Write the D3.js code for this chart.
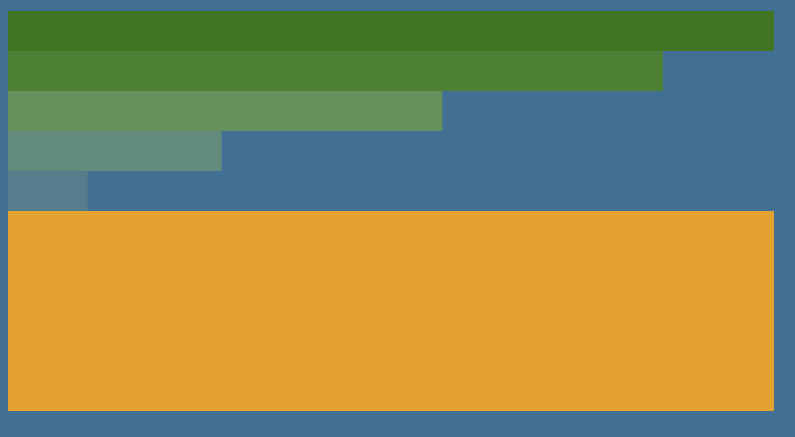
<!DOCTYPE html>
<html>
<head>
<meta charset="utf-8">
<script src="https://cdn.jsdelivr.net/npm/d3@7"></script>
<style>
  html, body { margin: 0; padding: 0; background: #427094; }
  svg { display: block; }
</style>
</head>
<body>
<div id="chart"></div>
<script>
// Stage values (share of the total, in %)
const stages = ["s1", "s2", "s3", "s4", "s5"];
const values = [100, 85.5, 56.7, 27.9, 10.4];
const colors = ["#427522", "#4e8136", "#66915d", "#638b7c", "#567d8c"];
const total = 100;

const width = 795, height = 437;
const margin = {top: 11, left: 8, right: 21, bottom: 26};

const svg = d3.select("#chart")
    .append("svg")
    .attr("width", width)
    .attr("height", height);

svg.append("rect")
    .attr("width", width)
    .attr("height", height)
    .attr("fill", "#427094");

const x = d3.scaleLinear()
    .domain([0, total])
    .range([margin.left, width - margin.right]);

// top half holds the stage bars, bottom half the total block
const y = d3.scaleBand()
    .domain(stages)
    .range([margin.top, margin.top + 200]);

svg.selectAll("rect.stage")
    .data(values)
    .enter()
    .append("rect")
    .attr("class", "stage")
    .attr("x", x(0))
    .attr("y", (d, i) => y(stages[i]))
    .attr("width", d => x(d) - x(0))
    .attr("height", y.bandwidth())
    .attr("fill", (d, i) => colors[i]);

svg.append("rect")
    .attr("x", x(0))
    .attr("y", margin.top + 200)
    .attr("width", x(total) - x(0))
    .attr("height", height - margin.bottom - (margin.top + 200))
    .attr("fill", "#e4a233");
</script>
</body>
</html>
